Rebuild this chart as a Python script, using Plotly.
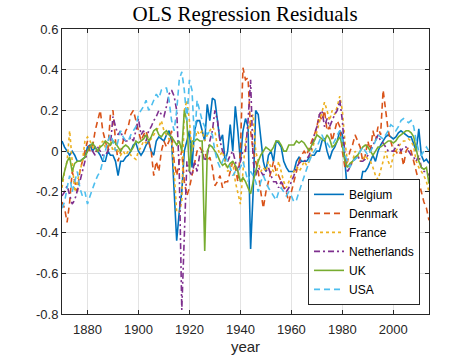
import plotly.graph_objects as go

years = list(range(1870, 2015))

belgium = [
    0.05, 0.02, 0.00, -0.02, 0.00, -0.02, -0.05, -0.05, -0.04, -0.03,
    0.02, 0.03, 0.00, 0.02, 0.00, -0.02, -0.05, -0.05, 0.00, -0.02,
    -0.02, -0.05, -0.12, -0.05, -0.05, -0.03, -0.02, 0.00, 0.03, 0.04,
    0.00, -0.02, 0.00, 0.03, 0.05, 0.00, -0.02, 0.05, 0.07, 0.06,
    0.05, 0.08, 0.10, 0.05, -0.20, -0.44, -0.30, -0.20, 0.00, 0.05,
    0.10, -0.08, 0.10, 0.15, 0.15, 0.10, 0.05, 0.23, 0.15, 0.26,
    0.25, 0.15, 0.05, 0.08, -0.05, 0.00, 0.13, 0.00, 0.22, 0.10,
    -0.05, 0.10, 0.16, 0.12, -0.48, -0.20, 0.20, 0.18, 0.05, -0.05,
    -0.10, -0.02, 0.00, -0.05, 0.05, 0.04, 0.02, -0.05, -0.08, -0.10,
    -0.10, -0.10, -0.05, -0.03, -0.05, -0.05, -0.05, -0.03, -0.02, -0.02,
    0.00, 0.00, 0.05, 0.06, 0.00, -0.04, 0.00, 0.02, 0.05, 0.10,
    0.08, -0.05, -0.20, -0.15, -0.16, -0.16, -0.15, -0.17, -0.10, -0.10,
    -0.08, -0.05, -0.02, -0.05, 0.00, 0.03, 0.05, 0.07, 0.08, 0.07,
    0.06, 0.07, 0.09, 0.10, 0.09, 0.08, 0.07, 0.07, 0.03, 0.00,
    0.11, -0.02, -0.05, -0.04, -0.06,
]

denmark = [
    -0.25, -0.28, -0.35, -0.25, -0.10, -0.15, -0.20, -0.10, -0.05, 0.00,
    0.05, 0.00, 0.02, 0.10, 0.15, 0.20, 0.10, 0.05, 0.00, 0.18,
    0.20, 0.05, -0.05, 0.00, 0.05, 0.10, 0.12, 0.18, 0.20, 0.15,
    0.10, 0.05, 0.08, 0.10, 0.05, 0.00, -0.12, -0.05, -0.10, 0.00,
    0.05, 0.02, 0.05, 0.10, -0.05, -0.12, -0.05, 0.00, -0.15, -0.22,
    -0.18, -0.12, -0.05, 0.00, 0.02, 0.00, 0.00, -0.05, -0.03, -0.08,
    -0.17, -0.15, -0.12, -0.18, -0.15, -0.15, -0.10, -0.05, -0.08, -0.15,
    0.00, 0.41, 0.35, 0.36, 0.10, 0.00, -0.05, -0.10, -0.20, -0.28,
    -0.20, -0.15, -0.10, -0.05, -0.10, -0.12, -0.15, -0.18, -0.20, -0.25,
    -0.20, -0.15, -0.10, -0.05, -0.02, 0.00, -0.02, 0.02, 0.05, 0.08,
    0.12, 0.18, 0.15, 0.20, 0.10, 0.12, 0.05, 0.10, 0.15, 0.12,
    0.00, -0.08, -0.05, 0.00, 0.03, 0.08, 0.05, 0.02, -0.05, -0.02,
    0.05, 0.00, 0.10, 0.05, 0.12, 0.08, 0.30, 0.20, 0.10, 0.05,
    0.00, 0.00, -0.02, 0.00, -0.07, 0.00, 0.02, 0.00, -0.05, -0.10,
    -0.15, -0.20, -0.25, -0.28, -0.34,
]

france = [
    -0.18, -0.10, -0.05, 0.10, -0.05, -0.20, -0.15, -0.10, -0.05, 0.05,
    0.07, 0.05, 0.02, 0.00, 0.00, 0.03, 0.05, 0.02, 0.00, 0.05,
    0.00, 0.02, 0.00, -0.02, 0.00, -0.02, 0.00, -0.02, -0.03, -0.04,
    0.00, 0.02, 0.05, 0.04, 0.05, 0.06, 0.08, 0.10, 0.12, 0.15,
    0.10, 0.08, 0.06, 0.05, -0.10, -0.30, -0.30, -0.25, 0.20, 0.25,
    0.15, 0.00, 0.05, 0.10, 0.08, 0.10, 0.05, 0.08, 0.10, 0.12,
    0.10, 0.02, -0.02, 0.00, -0.05, -0.10, -0.08, -0.05, -0.15, -0.20,
    -0.26, -0.10, 0.05, 0.10, 0.15, 0.18, 0.00, -0.05, -0.10, -0.08,
    -0.10, -0.05, -0.08, -0.10, -0.12, -0.05, -0.10, -0.15, -0.18, -0.15,
    -0.12, -0.10, -0.08, -0.10, -0.08, -0.05, -0.07, -0.05, 0.00, 0.05,
    0.10, 0.15, 0.20, 0.24, 0.20, 0.15, 0.20, 0.18, 0.22, 0.27,
    0.20, 0.05, -0.05, -0.08, -0.05, 0.00, -0.02, -0.05, -0.05, -0.02,
    -0.04, -0.05, -0.08, -0.12, -0.14, -0.10, -0.05, 0.00, -0.05, -0.08,
    -0.02, 0.00, 0.02, 0.04, 0.05, 0.05, 0.06, 0.05, 0.02, -0.05,
    -0.08, -0.10, -0.12, -0.15, -0.20,
]

netherlands = [
    -0.22, -0.20, -0.17, -0.22, -0.26, -0.24, -0.20, -0.15, -0.10, -0.05,
    0.00, 0.03, 0.00, -0.02, 0.02, 0.00, -0.02, -0.02, 0.00, 0.03,
    0.17, 0.12, 0.08, 0.10, 0.06, 0.05, 0.05, 0.07, 0.05, 0.10,
    0.16, 0.08, 0.10, 0.05, 0.10, 0.12, 0.15, 0.17, 0.20, 0.18,
    0.17, 0.22, 0.28, 0.30, 0.27, 0.20, -0.10, -0.78, -0.40, -0.05,
    -0.10, -0.12, -0.05, -0.10, -0.02, 0.00, -0.05, -0.02, 0.05, 0.10,
    0.20, 0.15, 0.05, 0.00, -0.02, -0.05, -0.02, 0.00, -0.05, -0.10,
    -0.05, 0.00, 0.00, 0.15, 0.35, -0.05, -0.12, -0.08, -0.10, -0.12,
    -0.10, -0.08, -0.12, -0.15, -0.15, -0.18, -0.15, -0.17, -0.20, -0.18,
    -0.15, -0.12, -0.08, -0.06, -0.05, -0.05, -0.04, -0.02, 0.02, 0.08,
    0.12, 0.18, 0.20, 0.12, 0.16, 0.12, 0.15, 0.18, 0.20, 0.25,
    0.15, -0.02, -0.10, -0.08, -0.05, -0.04, -0.02, -0.05, -0.05, -0.04,
    -0.02, 0.00, 0.03, 0.05, 0.08, 0.05, 0.04, 0.02, 0.00, 0.00,
    0.00, 0.02, 0.03, 0.00, 0.02, 0.02, 0.00, -0.02, -0.03, -0.05,
    -0.02, -0.08, -0.10, -0.10, -0.12,
]

uk = [
    -0.15, -0.10, -0.05, -0.03, -0.10, -0.06, -0.05, -0.05, -0.04, -0.03,
    0.00, 0.02, 0.04, 0.02, 0.00, 0.02, 0.03, 0.05, 0.04, 0.03,
    0.05, 0.04, 0.02, 0.00, 0.02, 0.03, 0.02, 0.00, 0.02, 0.05,
    0.04, 0.05, 0.06, 0.08, 0.05, 0.07, 0.10, 0.11, 0.08, 0.07,
    0.09, 0.10, 0.08, 0.07, 0.05, 0.03, 0.05, 0.00, 0.20, 0.15,
    -0.10, 0.05, 0.05, 0.06, 0.05, 0.05, -0.49, 0.00, 0.03, 0.02,
    0.00, -0.02, -0.05, -0.07, -0.06, -0.08, -0.06, -0.05, -0.07, -0.10,
    -0.15, -0.13, -0.15, -0.18, -0.21, -0.15, -0.10, -0.05, -0.02, 0.00,
    0.02, 0.01, 0.00, 0.02, 0.05, 0.05, 0.03, 0.00, 0.00, 0.03,
    0.03, 0.03, 0.05, 0.04, 0.05, 0.04, 0.02, 0.00, 0.03, 0.05,
    0.08, 0.07, 0.06, 0.05, 0.08, 0.06, 0.02, 0.03, 0.05, 0.07,
    0.03, -0.05, -0.08, -0.06, -0.05, -0.03, -0.02, 0.00, 0.02, 0.03,
    0.02, 0.00, -0.02, 0.00, 0.02, 0.02, 0.03, 0.04, 0.05, 0.05,
    0.04, 0.05, 0.07, 0.08, 0.09, 0.10, 0.10, 0.09, 0.07, 0.00,
    -0.05, -0.08, -0.09, -0.08, -0.16,
]

usa = [
    -0.28, -0.25, -0.18, -0.12, -0.20, -0.15, -0.10, -0.18, -0.22, -0.20,
    -0.26, -0.22, -0.18, -0.15, -0.12, -0.10, -0.05, 0.00, 0.05, 0.08,
    0.05, 0.00, 0.05, 0.10, 0.07, 0.05, 0.05, 0.08, 0.10, 0.12,
    0.18, 0.20, 0.22, 0.25, 0.20, 0.22, 0.25, 0.28, 0.26, 0.30,
    0.31, 0.31, 0.25, 0.15, 0.10, 0.20, 0.35, 0.39, 0.30, 0.15,
    0.35, 0.30, 0.05, 0.25, 0.20, 0.15, 0.12, 0.08, 0.10, 0.08,
    0.00, -0.05, -0.08, -0.05, -0.02, -0.05, -0.08, -0.12, -0.10, -0.10,
    -0.08, -0.05, -0.10, -0.15, -0.10, -0.12, -0.15, -0.20, -0.15, -0.12,
    -0.15, -0.18, -0.20, -0.22, -0.24, -0.20, -0.18, -0.20, -0.22, -0.20,
    -0.22, -0.25, -0.24, -0.20, -0.16, -0.12, -0.08, -0.05, -0.02, 0.00,
    0.02, 0.05, 0.08, 0.05, 0.04, 0.02, 0.03, 0.05, 0.08, 0.10,
    0.05, -0.02, -0.05, -0.08, -0.05, -0.04, -0.03, 0.00, 0.02, 0.00,
    -0.02, 0.00, 0.02, 0.05, 0.08, 0.07, 0.06, 0.08, 0.10, 0.13,
    0.12, 0.10, 0.12, 0.15, 0.16, 0.15, 0.14, 0.15, 0.12, 0.05,
    0.00, -0.02, 0.00, 0.02, 0.00,
]

series_names = ["Belgium", "Denmark", "France", "Netherlands", "UK", "USA"]
series_values = [belgium, denmark, france, netherlands, uk, usa]
colors = ["#0072BD", "#D95319", "#EDB120", "#7E2F8E", "#77AC30", "#4DBEEE"]
dashes = ["solid", "6px,4px", "dot", "6px,3px,2px,3px", "solid", "6px,4px"]

x_tickvals = [1880, 1900, 1920, 1940, 1960, 1980, 2000]
y_tickvals = [0.6, 0.4, 0.2, 0, -0.2, -0.4, -0.6, -0.8]
y_ticktext = ["0.6", "0.4", "0.2", "0", "-0.2", "-0.4", "-0.6", "-0.8"]

fig = go.Figure()
for name, vals, c, d in zip(series_names, series_values, colors, dashes):
    fig.add_trace(go.Scatter(
        x=years, y=vals, mode="lines", name=name,
        line=dict(color=c, width=1.6, dash=d),
    ))

axis_common = dict(
    showline=True, linecolor="#262626", linewidth=1, mirror="ticks",
    ticks="inside", ticklen=4, tickcolor="#262626",
    showgrid=True, gridcolor="#e3e3e3", gridwidth=1,
    zeroline=False, automargin=False,
    tickfont=dict(family="Liberation Sans, Arial", size=13, color="#262626"),
)

fig.update_layout(
    width=474, height=355,
    margin=dict(l=62, r=45, t=29, b=41),
    paper_bgcolor="white", plot_bgcolor="white",
    title=dict(text="OLS Regression Residuals", x=0.517, xanchor="center",
               y=0.962, yanchor="middle",
               font=dict(family="Liberation Serif, Times New Roman", size=21, color="black")),
    xaxis=dict(range=[1870, 2014], tickvals=x_tickvals, ticklabelstandoff=3,
               title=dict(text="year", standoff=6,
                          font=dict(family="Liberation Sans, Arial", size=15, color="#262626")),
               **axis_common),
    yaxis=dict(range=[-0.8, 0.6], tickvals=y_tickvals, ticktext=y_ticktext,
               **axis_common),
    legend=dict(x=0.9755, y=0.032, xanchor="right", yanchor="bottom",
                bgcolor="white", bordercolor="#262626", borderwidth=1,
                font=dict(family="Liberation Sans, Arial", size=12, color="black"),
                tracegroupgap=0, itemwidth=30),
    showlegend=True,
)

fig.write_html(
    "out.html",
    config={"displayModeBar": False},
    post_script="document.body.style.margin='0';document.body.style.overflow='hidden';",
)
